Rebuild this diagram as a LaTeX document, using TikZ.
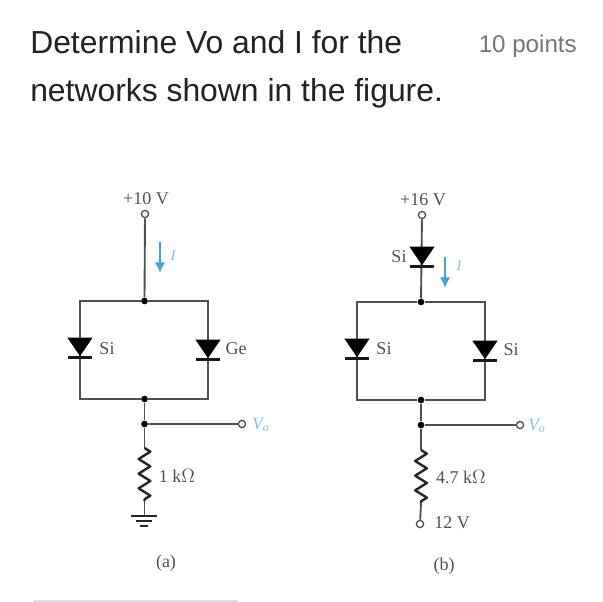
\documentclass[tikz,border=0pt]{standalone}
\usepackage{fontspec}
\setmainfont{Liberation Serif}
\newfontfamily\headfont{Liberation Sans}
\usetikzlibrary{decorations.pathmorphing,arrows.meta}
\definecolor{wirec}{HTML}{505050}
\definecolor{blueI}{HTML}{45A5D2}
\definecolor{headc}{HTML}{222222}
\definecolor{ptsc}{HTML}{757575}
\tikzset{
  x=0.75pt,y=-0.75pt,
  wire/.style={draw=wirec,line width=1.4pt},
  term/.style={circle,draw=wirec,fill=white,line width=1pt,inner sep=0pt,minimum size=5.4pt},
  dot/.style={circle,fill=black,inner sep=0pt,minimum size=5pt},
  lab/.style={text=wirec,inner sep=0pt,font=\fontsize{13.5}{15}\selectfont},
  cur/.style={text=blueI!70,inner sep=0pt,font=\fontsize{11}{13}\selectfont\itshape},
  head/.style={anchor=base west,inner sep=0pt,text=headc,font=\headfont\fontsize{23.9}{26}\selectfont},
  res/.style={draw=black!85,line width=1.8pt,line join=round,decorate,decoration={zigzag,segment length=11pt,amplitude=4.4pt}},
  arrowI/.style={draw=blueI,line width=2pt,-{Latex[length=8pt,width=8pt]}},
  gnd/.style={draw=black!85,line width=1.7pt}
}
% diode whose triangle top is at (#1)
\newcommand{\mydiode}[1]{%
  \fill[black] ([xshift=-9.4pt,yshift=0.2pt]#1) -- ([xshift=9.4pt,yshift=0.2pt]#1) -- ([yshift=-13.6pt]#1) -- cycle;
  \draw[black!90,line width=2.1pt] ([xshift=-9pt,yshift=-14.4pt]#1) -- ([xshift=9pt,yshift=-14.4pt]#1);
}
\begin{document}
\begin{tikzpicture}
\useasboundingbox[fill=white] (0,0) rectangle (603,602);
% header
\node[head] (t1) at (30,54) {Determine Vo and I for the};
\node[head] (t2) at (30,102) {networks shown in the figure.};
\node[anchor=base east,inner sep=0pt,text=ptsc,font=\headfont\fontsize{18.1}{20}\selectfont] (pts) at (577,53) {10 points};
\fill[black!12] (33,600) rectangle (238,602);

% ---------- circuit (a)
\node[term] (aT) at (145,214) {};
\node[dot] (aJ1) at (144.5,301) {};
\node[dot] (aJ2) at (144.5,399) {};
\node[dot] (aJ3) at (144.5,424) {};
\node[term] (aO) at (242,424) {};
\coordinate (aTL) at (80,301);
\coordinate (aTR) at (208,301);
\coordinate (aBL) at (80,399);
\coordinate (aBR) at (208,399);
\coordinate (aR1) at (144.5,448);
\coordinate (aR2) at (144.5,501);
\coordinate (aG) at (144.5,516);
\draw[wire] (aT) -- (aJ1);
\draw[wire] (aJ1) -- (aTL) -- (aBL) -- (aJ2);
\draw[wire] (aJ1) -- (aTR) -- (aBR) -- (aJ2);
\draw[wire] (aJ2) -- (aJ3) -- (aR1);
\draw[wire] (aJ3) -- (aO);
\draw[res] (aR1) -- (aR2);
\draw[wire] (aR2) -- (aG);
\coordinate (aDL) at (80,338);
\coordinate (aDR) at (208,340);
\mydiode{aDL}
\mydiode{aDR}
\coordinate (aG1L) at (131,516); \coordinate (aG1R) at (157,516);
\coordinate (aG2L) at (136,521); \coordinate (aG2R) at (152,521);
\coordinate (aG3L) at (140,526); \coordinate (aG3R) at (148,526);
\draw[gnd] (aG1L) -- (aG1R);
\draw[gnd] (aG2L) -- (aG2R);
\draw[gnd] (aG3L) -- (aG3R);
\coordinate (aA1) at (160,242); \coordinate (aA2) at (160,273);
\draw[arrowI] (aA1) -- (aA2);
\node[cur] (aI) at (173,256) {I};
\node[lab] (aV) at (146,199) {+10 V};
\node[lab] (aSi) at (107,349) {Si};
\node[lab] (aGe) at (236,349) {Ge};
\node[lab] (aK) at (177,476) {1 k\(\Omega\)};
\node[lab] (aCap) at (166,563) {(a)};
\node[cur,font=\fontsize{13}{15}\selectfont\itshape] (aVo) at (261,425) {V\textsubscript{o}};

% ---------- circuit (b)
\node[term] (bT) at (422,215) {};
\node[dot] (bJ1) at (421,302) {};
\node[dot] (bJ2) at (421,400) {};
\node[dot] (bJ3) at (421,425) {};
\node[term] (bO) at (520,425) {};
\coordinate (bTL) at (357,302);
\coordinate (bTR) at (485,302);
\coordinate (bBL) at (357,400);
\coordinate (bBR) at (485,400);
\coordinate (bR1) at (421,450);
\coordinate (bR2) at (421,503);
\node[term] (bE) at (420,524) {};
\draw[wire] (bT) -- (bJ1);
\draw[wire] (bJ1) -- (bTL) -- (bBL) -- (bJ2);
\draw[wire] (bJ1) -- (bTR) -- (bBR) -- (bJ2);
\draw[wire] (bJ2) -- (bJ3) -- (bR1);
\draw[wire] (bJ3) -- (bO);
\draw[res] (bR1) -- (bR2);
\draw[wire] (bR2) -- (bE);
\coordinate (bDT) at (422,247);
\coordinate (bDL) at (357,339);
\coordinate (bDR) at (485,341);
\mydiode{bDT}
\mydiode{bDL}
\mydiode{bDR}
\coordinate (bA1) at (445,257); \coordinate (bA2) at (445,288);
\draw[arrowI] (bA1) -- (bA2);
\node[cur] (bI) at (459,266) {I};
\node[lab] (bV) at (423,200) {+16 V};
\node[lab] (bSiT) at (399,257) {Si};
\node[lab] (bSiL) at (384,349) {Si};
\node[lab] (bSiR) at (511,350) {Si};
\node[lab] (bK) at (461,477) {4.7 k\(\Omega\)};
\node[lab] (b12) at (452,523) {12 V};
\node[lab] (bCap) at (444,566) {(b)};
\node[cur,font=\fontsize{13}{15}\selectfont\itshape] (bVo) at (537,426) {V\textsubscript{o}};
\end{tikzpicture}
\end{document}
